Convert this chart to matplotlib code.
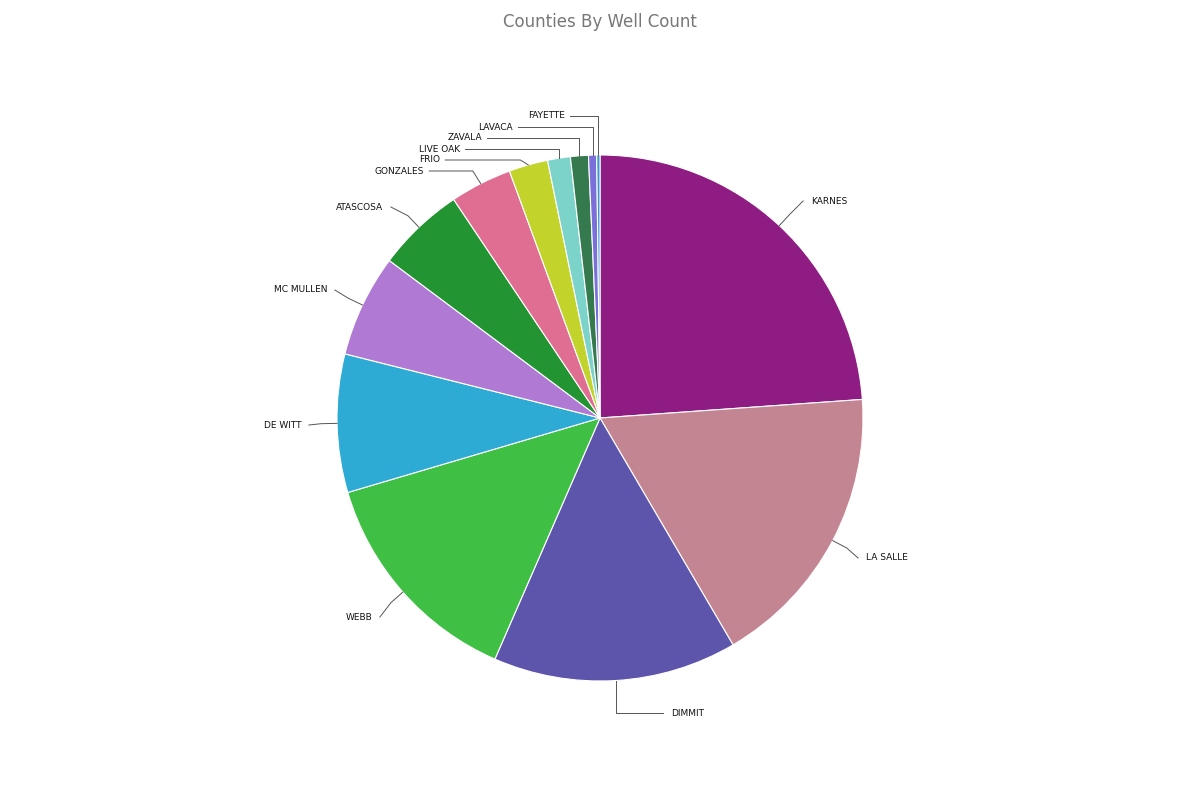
import matplotlib
matplotlib.use("Agg")
import matplotlib.pyplot as plt
import numpy as np

counties = ["KARNES","LA SALLE","DIMMIT","WEBB","DE WITT","MC MULLEN","ATASCOSA",
            "GONZALES","FRIO","LIVE OAK","ZAVALA","LAVACA","FAYETTE"]
wells = [239, 177, 150, 139, 85, 63, 54, 38, 24, 14, 11, 5, 2]
colors = ["#8E1C82","#C48592","#5D54AC","#40BF45","#2DABD4","#B07AD4","#229432",
          "#E06D92","#C2D42C","#7BD3C9","#357A4E","#7B6FD9","#3399CC"]
# label anchor pixel positions (layout)
label_px = [(811,201),(866,558),(671,713),(372,617),(301,425),(327,290),(383,207),
            (424,171),(440,160),(460,149),(482,138),(513,127),(565,116)]

W, H, cx, cy, R = 1200, 800, 600, 418, 263
fig = plt.figure(figsize=(12, 8), dpi=100)
ax = fig.add_axes([0, 0, 1, 1])
wedges, _ = ax.pie(wells, colors=colors, startangle=90, counterclock=False, radius=1,
                   wedgeprops=dict(edgecolor="white", linewidth=0.8))
ax.set_xlim(-cx/R, (W-cx)/R); ax.set_ylim(-(H-cy)/R, cy/R); ax.set_aspect("equal")
ax.axis("off")
def p2d(px, py): return (px-cx)/R, (cy-py)/R
for i, w in enumerate(wedges):
    a = np.deg2rad((w.theta1 + w.theta2)/2)
    ex, ey = np.cos(a), np.sin(a)
    tx, ty = p2d(*label_px[i])
    left = tx < 0
    if i >= 9:
        pts = [(ex, ey), (ex, ty), (tx+0.02, ty)]
    elif i >= 7:
        pts = [(ex, ey), (ex-0.03, ty), (tx+0.02, ty)]
    elif i == 2:
        pts = [(ex, ey), (ex, ty), (tx-0.03, ty)]
    else:
        mx, my = 1.06*ex, 1.06*ey
        pts = [(ex, ey), (mx, my), (tx+(0.03 if left else -0.03), ty)]
    xs, ys = zip(*pts)
    ax.plot(xs, ys, color="#555555", lw=0.7)
    ax.text(tx, ty, counties[i], fontsize=6.5, ha="right" if left and i != 2 else "left",
            va="center", color="#111111")
fig.text(0.5, 1-22/800, "Counties By Well Count", ha="center", va="center",
         fontsize=12, color="#777777")
fig.savefig("out.png", dpi=100, facecolor="white")
